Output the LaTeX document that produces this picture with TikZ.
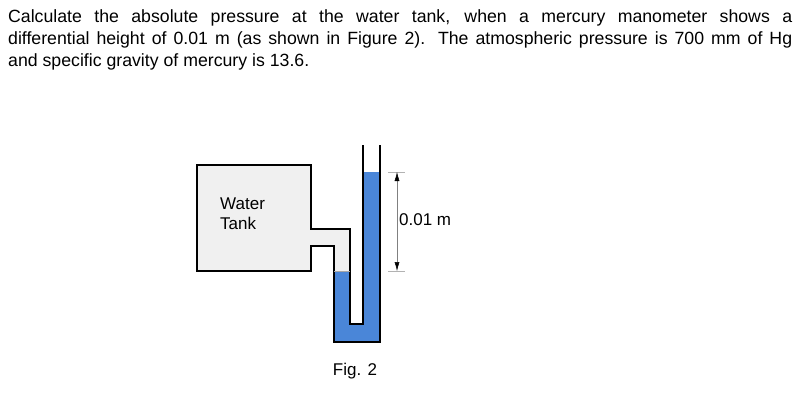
\documentclass[tikz,border=0pt]{standalone}
\usepackage{fontspec}
\setmainfont{Liberation Sans}
\usetikzlibrary{arrows.meta}
\definecolor{hg}{HTML}{4A86D8}
\definecolor{wat}{HTML}{F0F0F0}
\begin{document}
\begin{tikzpicture}[x=1pt,y=-1pt,
  wall/.style={line width=1.1pt,line join=miter},
  lbl/.style={font=\fontsize{17}{19}\selectfont,inner sep=0pt}]
\useasboundingbox[fill=white] (0,0) rectangle (810,409);
\node[anchor=north west,text width=784pt,align=justify,inner sep=0pt,font=\fontsize{17.7}{22}\selectfont] (q) at (8,9)
{Calculate the absolute pressure at the water tank, when a mercury manometer shows a\linebreak differential height of 0.01 m (as shown in Figure 2). The atmospheric pressure is 700 mm of Hg\linebreak and specific gravity of mercury is 13.6.};
% fills
\fill[wat] (197,165)--(311,165)--(311,229)--(350,229)--(350,271)--(334,271)--(334,246)--(311,246)--(311,271)--(197,271)--cycle;
\fill[hg] (334,271)--(350,271)--(350,324)--(363,324)--(363,172)--(380,172)--(380,342)--(334,342)--cycle;
% walls
\draw[wall] (380,145)--(380,342)--(334,342)--(334,246)--(311,246)--(311,271)--(197,271)--(197,165)--(311,165)--(311,229)--(350,229)--(350,324)--(363,324)--(363,145);
\draw[gray!70,line width=0.4pt] (350,271)--(334,271);
% dimension
\coordinate (t1) at (388,172); \coordinate (t2) at (405,172);
\coordinate (b1) at (388,271); \coordinate (b2) at (405,271);
\coordinate (at) at (397,172); \coordinate (ab) at (397,271);
\draw[gray!60,line width=0.5pt] (t1)--(t2) (b1)--(b2);
\draw[gray,line width=0.5pt,{Latex[length=9pt,width=5pt,black]}-{Latex[length=9pt,width=5pt,black]}] (at)--(ab);
\node[lbl,anchor=west] (dim) at (399,220) {0.01 m};
\node[lbl,align=left,anchor=north west,font=\fontsize{17}{20}\selectfont] (tank) at (220,198) {Water\\Tank};
\node[lbl] (fig) at (355,371) {Fig. 2};
\end{tikzpicture}
\end{document}
